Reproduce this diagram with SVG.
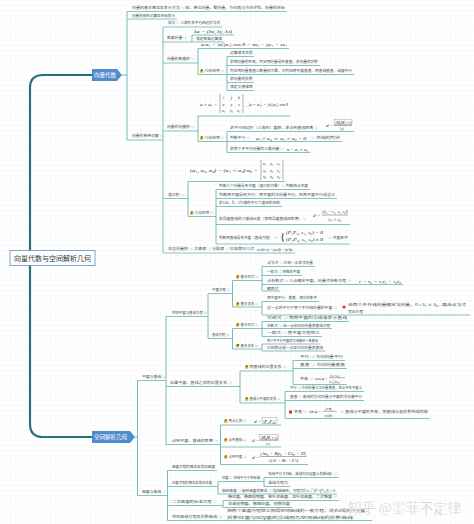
<svg xmlns="http://www.w3.org/2000/svg" xmlns:xlink="http://www.w3.org/1999/xlink" width="474" height="524" viewBox="0 0 474 524">
<style>
.t{font-family:"Noto Sans CJK SC","Noto Sans",sans-serif;font-size:3.8px;fill:#4d4d4d}
.f{font-family:"Liberation Serif","DejaVu Serif",serif;font-style:italic;font-size:5px;fill:#222}
.fs{font-size:4.2px}
.u{stroke:#62b5b2;stroke-width:.8;fill:none}
.c{stroke:#62b5b2;stroke-width:.9;fill:none}
.m{stroke:#27717c;stroke-width:2.2;fill:none}
.bar{stroke:#333;stroke-width:.4}
.l1{fill:#4f8ccc}
.l1t{font-family:"Noto Sans CJK SC","Noto Sans",sans-serif;font-size:5.5px;fill:#fff}
</style>
<defs>
<pattern id="grid" width="5" height="5" patternUnits="userSpaceOnUse"><path d="M5 0H0V5" fill="none" stroke="#eeeeee" stroke-width="0.5"/></pattern>
<symbol id="pic" viewBox="0 0 4 4"><rect width="4" height="4" rx="0.8" fill="#f5c342"/><text x="2" y="3.3" font-size="3.6" text-anchor="middle" font-family="Liberation Sans" font-weight="bold" fill="#333">P</text></symbol>
</defs>
<rect width="474" height="524" fill="#fff"/>
<rect width="474" height="524" fill="url(#grid)"/>

<g id="connectors">
<path class="m" d="M30 250.5V88Q30 75 43 75H92M30 265.5V424Q30 437 43 437H92"/>
<path class="c" d="M122 75H127M127 11.5V140"/>
<path class="c" d="M163 27V253"/>
<path class="c" d="M192 35V42"/>
<path class="c" d="M198 48.5V74.5"/>
<path class="c" d="M227 56.5V90.5"/>
<path class="c" d="M198 116V141.5"/>
<path class="c" d="M227 131.5V152.5"/>
<path class="c" d="M188 181.5V216.5"/>
<path class="c" d="M216 189.5V244"/>
<path class="c" d="M135 437H137.5M137.5 380.5V495.5"/>
<path class="c" d="M166 316.5V444.5"/>
<path class="c" d="M208 293.5V338.5"/>
<path class="c" d="M232.5 280.5V307"/>
<path class="c" d="M262 266.5V291"/>
<path class="c" d="M262 301.5V315"/>
<path class="c" d="M232.5 328.5V349"/>
<path class="c" d="M262 321.5V336.5"/>
<path class="c" d="M262 344V351"/>
<path class="c" d="M240 371V403"/>
<path class="c" d="M293 360.5V384.5"/>
<path class="c" d="M285 391.5V418.5"/>
<path class="c" d="M220.5 425V464.5"/>
<path class="c" d="M167.5 470.5V520.5"/>
<path class="c" d="M218 481.5V494"/>
<path class="c" d="M264 477.5V486.5"/>
<path class="c" d="M223 500.5V507.5"/>
</g>

<g id="root"><rect x="10" y="250.5" width="85" height="15" fill="#fff" stroke="#5b8fc9" stroke-width="0.8"/><text class="t" x="52.5" y="260.6" text-anchor="middle" style="font-size:7px;fill:#333">向量代数与空间解析几何</text></g>
<g id="n-algebra"><polygon class="l1" points="92,69 117,69 122,75 117,81 92,81"/><text class="l1t" x="94" y="77">向量代数</text></g>
<g id="n-geometry"><polygon class="l1" points="92,431 130,431 135,437 130,443 92,443"/><text class="l1t" x="94" y="439">空间解析几何</text></g>

<g id="n-basic"><text class="t" x="132" y="9.4" textLength="153" lengthAdjust="spacingAndGlyphs">向量的基本概念及表示方法 ◎ 模、单位向量、零向量、方向角与方向余弦、向量的坐标</text><line class="u" x1="127" y1="11.5" x2="287" y2="11.5"/></g>
<g id="n-linear"><text class="t" x="132" y="16.9" textLength="43" lengthAdjust="spacingAndGlyphs">向量的线性运算及坐标表示</text><line class="u" x1="127" y1="19" x2="177" y2="19"/></g>
<g id="n-ops"><text class="t" x="132" y="137.4">向量的各种运算 ◎</text><line class="u" x1="127" y1="140" x2="163" y2="140"/></g>

<g id="n-add"><text class="t" x="168" y="24.4" textLength="52" lengthAdjust="spacingAndGlyphs">加法 ◎ 三角形及平行四边形法则</text><line class="u" x1="163" y1="27" x2="222" y2="27"/></g>
<g id="n-scalar"><text class="t" x="167" y="39.4">数乘向量 ◎</text><line class="u" x1="163" y1="42" x2="192" y2="42"/></g>
<g id="n-scalar-f"><text class="f" x="194" y="33.3" textLength="38" lengthAdjust="spacingAndGlyphs">λa = (λx, λy, λz)</text><line class="u" x1="192" y1="35" x2="234" y2="35"/></g>
<g id="n-scalar-law"><text class="t" x="196" y="39.6" textLength="26" lengthAdjust="spacingAndGlyphs">满足数乘运算律</text><line class="u" x1="192" y1="42" x2="224" y2="42"/></g>

<g id="n-dot"><text class="t" x="167" y="60.4">向量的数量积 ◎</text><line class="u" x1="163" y1="63" x2="198" y2="63"/></g>
<g id="n-dot-f"><text class="f" x="201" y="46.3" textLength="86" lengthAdjust="spacingAndGlyphs">a·a₁ = |a||a₁| cos θ = xx₁ + yy₁ + zz₁</text><line class="u" x1="198" y1="48.5" x2="289" y2="48.5"/></g>
<g id="n-dot-app"><use href="#pic" x="200" y="69.3" width="3.6" height="3.6"/><text class="t" x="204.5" y="72.4" textLength="20" lengthAdjust="spacingAndGlyphs">几何应用 ◎</text><line class="u" x1="198" y1="74.5" x2="227" y2="74.5"/></g>
<g id="n-d1"><text class="t" x="230" y="54.4">运算律及性质</text><line class="u" x1="227" y1="56.5" x2="254" y2="56.5"/></g>
<g id="n-d2"><text class="t" x="230" y="63.4" textLength="88" lengthAdjust="spacingAndGlyphs">求两向量的夹角，判定两向量是否垂直，求向量的投影</text><line class="u" x1="227" y1="65.5" x2="320" y2="65.5"/></g>
<g id="n-d3"><text class="t" x="230" y="72.4" textLength="122" lengthAdjust="spacingAndGlyphs">判定两向量垂直⇔数量积为零，可判定两平面垂直、两直线垂直、线面平行</text><line class="u" x1="227" y1="74.5" x2="354" y2="74.5"/></g>
<g id="n-d4"><text class="t" x="230" y="80.4">求向量的投影</text><line class="u" x1="227" y1="82.5" x2="254" y2="82.5"/></g>
<g id="n-d5"><text class="t" x="230" y="88.4">满足交换律等</text><line class="u" x1="227" y1="90.5" x2="254" y2="90.5"/></g>

<g id="n-cross"><text class="t" x="167" y="128.4">向量的向量积 ◎</text><line class="u" x1="163" y1="131" x2="198" y2="131"/></g>
<g id="n-cross-f"><text class="f" x="200" y="106">a × a₁ =</text><line class="bar" x1="220" y1="94" x2="220" y2="113"/><line class="bar" x1="243" y1="94" x2="243" y2="113"/><text class="f fs" x="223" y="99">i</text><text class="f fs" x="231" y="99">j</text><text class="f fs" x="238" y="99">k</text><text class="f fs" x="222.5" y="105.5">x</text><text class="f fs" x="230.5" y="105.5">y</text><text class="f fs" x="238" y="105.5">z</text><text class="f fs" x="222" y="112">x₁</text><text class="f fs" x="230" y="112">y₁</text><text class="f fs" x="237" y="112">z₁</text><text class="f" x="246" y="106" textLength="42" lengthAdjust="spacingAndGlyphs">, |a × a₁| = |a||a₁| sin θ</text><line class="u" x1="198" y1="116" x2="290" y2="116"/></g>
<g id="n-cross-app"><use href="#pic" x="200" y="136.3" width="3.6" height="3.6"/><text class="t" x="204.5" y="139.4" textLength="20" lengthAdjust="spacingAndGlyphs">几何应用 ◎</text><line class="u" x1="198" y1="141.5" x2="227" y2="141.5"/></g>
<g id="n-f1"><text class="t" x="230" y="129.4" textLength="88" lengthAdjust="spacingAndGlyphs">求平行四边形（三角形）面积，求点到直线距离 ◎</text><text class="f" x="326" y="127">d =</text><rect x="334" y="119.5" width="18" height="5" fill="none" stroke="#666" stroke-width="0.3"/><text class="f fs" x="335" y="123.5">|M₀M₁×s|</text><line class="bar" x1="334" y1="125.5" x2="352" y2="125.5"/><text class="f fs" x="340" y="130">|s|</text><line class="u" x1="227" y1="131.5" x2="354" y2="131.5"/></g>
<g id="n-f2"><text class="t" x="230" y="139.4">判断平行 ◎</text><text class="f" x="256" y="139.6" textLength="50" lengthAdjust="spacingAndGlyphs">a₁ // a₂ ⇔ a₁ × a₂ = 0</text><text class="t" x="310" y="139.4" textLength="30" lengthAdjust="spacingAndGlyphs">◎ 共线的判定</text><line class="u" x1="227" y1="141.5" x2="342" y2="141.5"/></g>
<g id="n-f3"><text class="t" x="230" y="150.4" textLength="54" lengthAdjust="spacingAndGlyphs">求两个不平行向量的公垂向量 ◎</text><text class="f" x="287" y="150.6" textLength="21" lengthAdjust="spacingAndGlyphs">n = a₁ × a₂</text><line class="u" x1="227" y1="152.5" x2="310" y2="152.5"/></g>

<g id="n-mixed"><text class="t" x="168" y="196.4">混合积 ◎</text><line class="u" x1="163" y1="198.5" x2="188" y2="198.5"/></g>
<g id="n-mixed-f"><text class="f" x="190" y="172" textLength="68" lengthAdjust="spacingAndGlyphs">(a₁, a₂, a₃) = (a₁ × a₂)·a₃ =</text><line class="bar" x1="261" y1="160" x2="261" y2="180"/><line class="bar" x1="283" y1="160" x2="283" y2="180"/><text class="f fs" x="263" y="165">x₁</text><text class="f fs" x="270" y="165">y₁</text><text class="f fs" x="277" y="165">z₁</text><text class="f fs" x="263" y="171.5">x₂</text><text class="f fs" x="270" y="171.5">y₂</text><text class="f fs" x="277" y="171.5">z₂</text><text class="f fs" x="263" y="178">x₃</text><text class="f fs" x="270" y="178">y₃</text><text class="f fs" x="277" y="178">z₃</text><line class="u" x1="188" y1="181.5" x2="285" y2="181.5"/></g>
<g id="n-mixed-app"><use href="#pic" x="190" y="211.3" width="3.6" height="3.6"/><text class="t" x="194.5" y="214.4" textLength="19" lengthAdjust="spacingAndGlyphs">几何应用 ◎</text><line class="u" x1="188" y1="216.5" x2="216" y2="216.5"/></g>
<g id="n-h1"><text class="t" x="219" y="187.4" textLength="89" lengthAdjust="spacingAndGlyphs">判断三个向量是否共面（混合积为零）◎ 判断四点共面</text><line class="u" x1="216" y1="189.5" x2="310" y2="189.5"/></g>
<g id="n-h2"><text class="t" x="219" y="196.4" textLength="116" lengthAdjust="spacingAndGlyphs">判断两平面是否平行：两平面的法向量平行，则两平面平行或重合</text><line class="u" x1="216" y1="198.5" x2="337" y2="198.5"/></g>
<g id="n-h3"><text class="t" x="219" y="204.4" textLength="61" lengthAdjust="spacingAndGlyphs">求以a、b、c为棱的平行六面体的体积</text><line class="u" x1="216" y1="206.5" x2="282" y2="206.5"/></g>
<g id="n-h4"><text class="t" x="219" y="220.4" textLength="87" lengthAdjust="spacingAndGlyphs">求异面直线的公垂线长度（即两异面直线间距离）◎</text><text class="f" x="313" y="217.2">d =</text><text class="f fs" x="322" y="213.3" textLength="26" lengthAdjust="spacingAndGlyphs">|(r₂ − r₁, s₁, s₂)|</text><line class="bar" x1="322" y1="215" x2="348" y2="215"/><text class="f fs" x="328" y="220.5">|s₁ × s₂|</text><line class="u" x1="216" y1="224.5" x2="350" y2="224.5"/></g>
<g id="n-h5"><text class="t" x="219" y="239.4" textLength="58" lengthAdjust="spacingAndGlyphs">判断两直线是否共面（直线方程） ◎</text><text class="f" x="280" y="240" style="font-size:11px;font-style:normal">{</text><text class="f fs" x="286" y="233.5" textLength="37" lengthAdjust="spacingAndGlyphs">(P₁P₂, s₁, s₂) = 0</text><text class="f fs" x="286" y="240.5" textLength="37" lengthAdjust="spacingAndGlyphs">(P₁P₂, s₁, s₂) ≠ 0</text><text class="t" x="328" y="239.4" textLength="20" lengthAdjust="spacingAndGlyphs">◎ 共面条件</text><line class="u" x1="216" y1="244" x2="350" y2="244"/></g>
<g id="n-triple"><text class="t" x="168" y="250.4" textLength="86" lengthAdjust="spacingAndGlyphs">双重向量积 ◎ 交换律 ◎ 分配律 ◎ 拉格朗日公式</text><text class="f" x="257" y="250.6" textLength="36" lengthAdjust="spacingAndGlyphs">a×(b×c) = (a·c)b − (a·b)c</text><line class="u" x1="163" y1="253" x2="295" y2="253"/></g>

<g id="n-plane-line"><text class="t" x="142" y="378.4">平面与直线 ◎</text><line class="u" x1="137.5" y1="380.5" x2="166" y2="380.5"/></g>
<g id="n-eq"><text class="t" x="172" y="314.4" textLength="35" lengthAdjust="spacingAndGlyphs">空间平面与直线方程 ◎</text><line class="u" x1="166" y1="316.5" x2="208" y2="316.5"/></g>
<g id="n-plane"><text class="t" x="212" y="291.4" textLength="18" lengthAdjust="spacingAndGlyphs">平面方程 ◎</text><line class="u" x1="208" y1="293.5" x2="232.5" y2="293.5"/></g>
<g id="n-plane-form"><use href="#pic" x="236" y="275.3" width="3.6" height="3.6"/><text class="t" x="240.5" y="278.4" textLength="18" lengthAdjust="spacingAndGlyphs">基本形式 ◎</text><line class="u" x1="232.5" y1="280.5" x2="262" y2="280.5"/></g>
<g id="n-t1"><text class="t" x="267" y="264.4" textLength="46" lengthAdjust="spacingAndGlyphs">点法式 ◎ 已知一点及法向量</text><line class="u" x1="262" y1="266.5" x2="315" y2="266.5"/></g>
<g id="n-t2"><text class="t" x="267" y="273.4" textLength="33" lengthAdjust="spacingAndGlyphs">一般式 ◎ 特殊的平面</text><line class="u" x1="262" y1="275.5" x2="302" y2="275.5"/></g>
<g id="n-t3"><text class="t" x="267" y="282.4" textLength="84" lengthAdjust="spacingAndGlyphs">点参数式 ◎ 三点确定平面，向量式参数方程 ◎</text><text class="f" x="359" y="282.6" textLength="42" lengthAdjust="spacingAndGlyphs">r − r₀ = s₁t₁ + s₂t₂</text><line class="u" x1="262" y1="284.5" x2="403" y2="284.5"/></g>
<g id="n-t4"><text class="t" x="267" y="289.6">截距式</text><line class="u" x1="262" y1="291" x2="280" y2="291"/></g>
<g id="n-plane-rel"><use href="#pic" x="236" y="302.3" width="3.6" height="3.6"/><text class="t" x="240.5" y="305.4" textLength="18" lengthAdjust="spacingAndGlyphs">基本关系 ◎</text><line class="u" x1="232.5" y1="307" x2="262" y2="307"/></g>
<g id="n-u1"><text class="t" x="267" y="299.4" textLength="50" lengthAdjust="spacingAndGlyphs">两平面平行、垂直、相交的条件</text><line class="u" x1="262" y1="301.5" x2="319" y2="301.5"/></g>
<g id="n-u2"><text class="t" x="267" y="309.4" textLength="70" lengthAdjust="spacingAndGlyphs">过一点且平行于两个不共线向量的平面 ◎</text><circle cx="344" cy="307" r="1.6" fill="#d9302c"/><text class="t" x="348" y="306.2" textLength="118" lengthAdjust="spacingAndGlyphs">由两个不共线向量确定法向量，n = s₁ × s₂，再由点法式</text><text class="t" x="348" y="313">写出方程</text><line class="u" x1="262" y1="315" x2="470" y2="315"/></g>
<g id="n-line"><text class="t" x="212" y="336.4" textLength="17" lengthAdjust="spacingAndGlyphs">直线方程 ◎</text><line class="u" x1="208" y1="338.5" x2="232.5" y2="338.5"/></g>
<g id="n-line-form"><use href="#pic" x="236" y="323.3" width="3.6" height="3.6"/><text class="t" x="240.5" y="326.4" textLength="18" lengthAdjust="spacingAndGlyphs">基本形式 ◎</text><line class="u" x1="232.5" y1="328.5" x2="262" y2="328.5"/></g>
<g id="n-w1"><text class="t" x="267" y="319.4" textLength="80" lengthAdjust="spacingAndGlyphs">对称式 ◎ 用两平面的交线来表示直线</text><line class="u" x1="262" y1="321.5" x2="349" y2="321.5"/></g>
<g id="n-w2"><text class="t" x="267" y="327" textLength="63" lengthAdjust="spacingAndGlyphs">参数式 ◎ 由一点和方向向量求直线方程</text><line class="u" x1="262" y1="328.5" x2="332" y2="328.5"/></g>
<g id="n-w3"><text class="t" x="267" y="334.4" textLength="53" lengthAdjust="spacingAndGlyphs">一般式 ◎ 两平面方程联立</text><line class="u" x1="262" y1="336.5" x2="322" y2="336.5"/></g>
<g id="n-line-rel"><use href="#pic" x="236" y="343.8" width="3.6" height="3.6"/><text class="t" x="240.5" y="346.9" textLength="18" lengthAdjust="spacingAndGlyphs">基本关系 ◎</text><line class="u" x1="232.5" y1="349" x2="262" y2="349"/></g>
<g id="n-x1"><text class="t" x="267" y="342.2" textLength="51" lengthAdjust="spacingAndGlyphs">两个不平行平面的交线确定一条直线</text><line class="u" x1="262" y1="344" x2="320" y2="344"/></g>
<g id="n-x2"><text class="t" x="267" y="349.4" textLength="56" lengthAdjust="spacingAndGlyphs">已知两点或一点及方向向量求直线</text><line class="u" x1="262" y1="351" x2="325" y2="351"/></g>

<g id="n-rel"><text class="t" x="170" y="384.4" textLength="62" lengthAdjust="spacingAndGlyphs">从属平面、直线之间的位置关系 ◎</text><line class="u" x1="166" y1="386.5" x2="240" y2="386.5"/></g>
<g id="n-ll"><use href="#pic" x="245" y="365.3" width="3.6" height="3.6"/><text class="t" x="249.5" y="368.4" textLength="37" lengthAdjust="spacingAndGlyphs">两直线的位置关系 ◎</text><line class="u" x1="240" y1="371" x2="293" y2="371"/></g>
<g id="n-z1"><text class="t" x="300" y="358.4" textLength="43" lengthAdjust="spacingAndGlyphs">平行 ◎ 方向向量平行</text><line class="u" x1="293" y1="360.5" x2="345" y2="360.5"/></g>
<g id="n-z2"><text class="t" x="300" y="366.4" textLength="45" lengthAdjust="spacingAndGlyphs">垂直 ◎ 方向向量垂直</text><line class="u" x1="293" y1="368.5" x2="347" y2="368.5"/></g>
<g id="n-z3"><text class="t" x="300" y="380.4" textLength="13" lengthAdjust="spacingAndGlyphs">夹角 ◎</text><text class="f fs" x="315" y="380">cos φ =</text><text class="f fs" x="330" y="376.5">|s₁·s₂|</text><line class="bar" x1="329" y1="377.8" x2="345" y2="377.8"/><text class="f fs" x="329" y="382.8">|s₁||s₂|</text><line class="u" x1="293" y1="384.5" x2="347" y2="384.5"/></g>
<g id="n-lp"><use href="#pic" x="245" y="397.3" width="3.6" height="3.6"/><text class="t" x="249.5" y="400.4" textLength="31" lengthAdjust="spacingAndGlyphs">直线与平面的关系 ◎</text><line class="u" x1="240" y1="403" x2="285" y2="403"/></g>
<g id="n-aa1"><text class="t" x="290" y="389.4" textLength="72" lengthAdjust="spacingAndGlyphs">平行 ◎ 方向向量与法向量垂直，且点不在平面上</text><line class="u" x1="285" y1="391.5" x2="364" y2="391.5"/></g>
<g id="n-aa2"><text class="t" x="290" y="398.4" textLength="72" lengthAdjust="spacingAndGlyphs">垂直 ◎ 直线的方向向量与平面的法向量平行</text><line class="u" x1="285" y1="400.5" x2="364" y2="400.5"/></g>
<g id="n-aa3"><rect x="289" y="410.5" width="3" height="3" fill="#d9302c"/><text class="t" x="294" y="413.4" textLength="13" lengthAdjust="spacingAndGlyphs">夹角 ◎</text><text class="f fs" x="309" y="413">sin φ =</text><text class="f fs" x="325" y="409.8">|s·n|</text><line class="bar" x1="323" y1="411.3" x2="337" y2="411.3"/><text class="f fs" x="324" y="416.5">|s||n|</text><text class="t" x="340" y="413.4" textLength="88" lengthAdjust="spacingAndGlyphs">◎ 直线与平面的夹角，即直线与其投影所成的角</text><line class="u" x1="285" y1="418.5" x2="430" y2="418.5"/></g>

<g id="n-dist"><text class="t" x="172" y="442.4" textLength="46" lengthAdjust="spacingAndGlyphs">点到平面、直线的距离 ◎</text><line class="u" x1="166" y1="444.5" x2="220.5" y2="444.5"/></g>
<g id="n-ab1"><use href="#pic" x="224" y="419.3" width="3.6" height="3.6"/><text class="t" x="228.5" y="422.4" textLength="18" lengthAdjust="spacingAndGlyphs">两点之间 ◎</text><text class="f" x="254" y="422.6">d =</text><rect x="262" y="417.5" width="15" height="6" fill="none" stroke="#666" stroke-width="0.3"/><text class="f" x="263" y="422.6">|P₁P₂|</text><line class="u" x1="220.5" y1="425" x2="281" y2="425"/></g>
<g id="n-ab2"><use href="#pic" x="224" y="438.3" width="3.6" height="3.6"/><text class="t" x="228.5" y="441.4" textLength="18" lengthAdjust="spacingAndGlyphs">点到直线 ◎</text><text class="f" x="252" y="441.6">d =</text><rect x="259.5" y="434.5" width="19" height="5" fill="none" stroke="#666" stroke-width="0.3"/><text class="f fs" x="260.5" y="438.5">|M₀M × s|</text><line class="bar" x1="259.5" y1="440.3" x2="278.5" y2="440.3"/><text class="f fs" x="266" y="445">|s|</text><line class="u" x1="220.5" y1="447" x2="281" y2="447"/></g>
<g id="n-ab3"><use href="#pic" x="224" y="455.3" width="3.6" height="3.6"/><text class="t" x="228.5" y="458.4" textLength="18" lengthAdjust="spacingAndGlyphs">点到平面 ◎</text><text class="f" x="252" y="458.6">d =</text><text class="f fs" x="260" y="455" textLength="46" lengthAdjust="spacingAndGlyphs">|Ax₀ + By₀ + Cz₀ + D|</text><line class="bar" x1="259.5" y1="456.5" x2="306.5" y2="456.5"/><text class="f fs" x="268" y="462.2" textLength="30" lengthAdjust="spacingAndGlyphs">√(A² + B² + C²)</text><line class="u" x1="220.5" y1="464.5" x2="308" y2="464.5"/></g>

<g id="n-surf"><text class="t" x="142" y="493.4">曲面与曲线 ◎</text><line class="u" x1="137.5" y1="495.5" x2="167.5" y2="495.5"/></g>
<g id="n-ac1"><text class="t" x="172" y="468.4" textLength="43" lengthAdjust="spacingAndGlyphs">曲面方程的概念及常见曲面</text><line class="u" x1="167.5" y1="470.5" x2="217" y2="470.5"/></g>
<g id="n-ac2"><text class="t" x="172" y="484.4" textLength="40" lengthAdjust="spacingAndGlyphs">柱面方程的概念及常见柱面</text><line class="u" x1="167.5" y1="486.5" x2="218" y2="486.5"/></g>
<g id="n-ad1"><text class="t" x="222" y="479.4" textLength="38" lengthAdjust="spacingAndGlyphs">柱面 ◎ 母线平行于坐标轴</text><line class="u" x1="218" y1="481.5" x2="264" y2="481.5"/></g>
<g id="n-ad1a"><text class="t" x="268" y="475.4" textLength="69" lengthAdjust="spacingAndGlyphs">母线平行于z轴，准线为xOy面上的曲线C ◎</text><line class="u" x1="264" y1="477.5" x2="339" y2="477.5"/></g>
<g id="n-ad1b"><text class="t" x="268" y="484.4" textLength="20" lengthAdjust="spacingAndGlyphs">准线方程为</text><line class="u" x1="264" y1="486.5" x2="290" y2="486.5"/></g>
<g id="n-ad2"><text class="t" x="222" y="491.8" textLength="113" lengthAdjust="spacingAndGlyphs">旋转曲面 ◎ 旋转曲面的概念 ◎ 绕z轴旋转，方程为f(±√(x²+y²), z) = 0</text><line class="u" x1="218" y1="494" x2="337" y2="494"/></g>
<g id="n-ac3"><text class="t" x="172" y="503.4" textLength="45" lengthAdjust="spacingAndGlyphs">二次曲面的标准方程 ◎</text><line class="u" x1="167.5" y1="505.5" x2="223" y2="505.5"/></g>
<g id="n-ae1"><text class="t" x="228" y="498.4" textLength="109" lengthAdjust="spacingAndGlyphs">椭球面、椭圆抛物面、单叶双曲面、双叶双曲面、二次锥面 ◎</text><line class="u" x1="223" y1="500.5" x2="339" y2="500.5"/></g>
<g id="n-ae2"><text class="t" x="228" y="505.4" textLength="62" lengthAdjust="spacingAndGlyphs">双曲抛物面、椭圆柱面、抛物柱面</text><line class="u" x1="223" y1="507.5" x2="292" y2="507.5"/></g>
<g id="n-ac4"><text class="t" x="172" y="518.4" textLength="50" lengthAdjust="spacingAndGlyphs">空间曲线方程及投影曲线 ◎</text><line class="u" x1="167.5" y1="520.5" x2="225" y2="520.5"/></g>
<g id="n-ac4c"><text class="t" x="227" y="512.2" textLength="143" lengthAdjust="spacingAndGlyphs">把两个曲面方程联立即得空间曲线的一般方程，消去z得投影柱面，</text><text class="t" x="227" y="519.2" textLength="126" lengthAdjust="spacingAndGlyphs">投影柱面与xOy面的交线即为空间曲线的投影曲线</text><line class="u" x1="225" y1="520.5" x2="372" y2="520.5"/></g>

<g id="watermark"><text x="348" y="512.5" style="font-family:'Noto Sans CJK SC',sans-serif;font-size:14px;fill:#c4c4c4;stroke:#fff;stroke-width:0.4" textLength="113" lengthAdjust="spacingAndGlyphs">知乎 @墨菲不定律</text></g>
</svg>
